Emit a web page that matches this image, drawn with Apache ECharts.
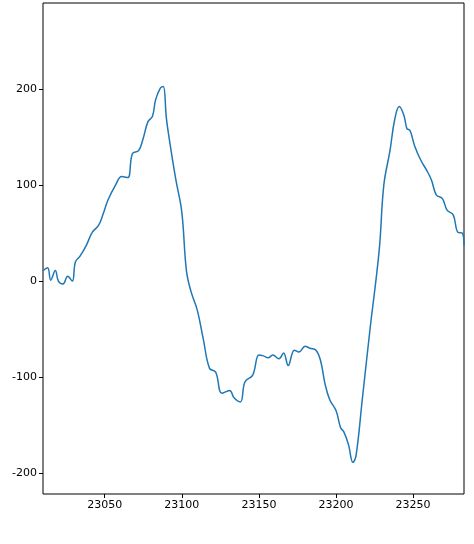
<!DOCTYPE html>
<html style="height: 100%">
<head>
<meta charset="utf-8">
<script src="https://cdn.jsdelivr.net/npm/echarts@6/dist/echarts.min.js"></script>
</head>
<body style="height: 100%; margin: 0; background: #fff">
<div id="container" style="width: 474px; height: 544px"></div>
<script>
// samples
var xs = [23010, 23013, 23015, 23018, 23020, 23023, 23026, 23029, 23031, 23034,
  23038, 23042, 23046, 23049, 23052, 23057, 23061, 23065, 23068, 23072,
  23075, 23078, 23081, 23083, 23086, 23088, 23090, 23092, 23096, 23100,
  23103, 23106, 23110, 23114, 23118, 23122, 23126, 23131, 23134, 23138,
  23141, 23146, 23150, 23153, 23156, 23159, 23163, 23166, 23169, 23173,
  23176, 23180, 23183, 23187, 23190, 23193, 23196, 23200, 23203, 23205,
  23208, 23211, 23213, 23217, 23222, 23228, 23231, 23235, 23238, 23241,
  23244, 23246, 23248, 23251, 23255, 23259, 23262, 23265, 23269, 23272,
  23276, 23279, 23282, 23283];
var ys = [11, 14, 1, 11, 0, -3, 5, 0, 20, 26,
  37, 51, 58, 70, 84, 100, 109, 108, 133, 136,
  149, 166, 172, 189, 201, 203, 170, 147, 107, 72,
  11, -11, -30, -61, -91, -95, -117, -114, -122, -126,
  -105, -98, -77, -78, -80, -77, -81, -75, -88, -72,
  -74, -68, -70, -72, -83, -108, -124, -135, -153, -157,
  -170, -189, -182, -124, -51, 32, 100, 136, 168, 182,
  173, 159, 157, 141, 126, 115, 105, 90, 86, 74,
  69, 51, 50, 37];
var xTicks = [23050, 23100, 23150, 23200, 23250];
var yTicks = [-200, -100, 0, 100, 200];

var points = xs.map(function (x, i) { return [x, ys[i]]; });
var myChart = echarts.init(document.getElementById('container'));
var tickStyle = { show: true, length: 4, lineStyle: { color: '#000' } };
myChart.setOption({
  animation: false,
  grid: { left: 43, right: 10, top: 3, bottom: 50, show: true, borderColor: '#000', borderWidth: 1 },
  xAxis: {
    type: 'value', min: 23010, max: 23283,
    axisLine: { show: false, onZero: false },
    splitLine: { show: false },
    axisTick: Object.assign({ customValues: xTicks }, tickStyle),
    axisLabel: { customValues: xTicks, formatter: function (v) { return String(v); },
      color: '#000', fontSize: 11, fontFamily: 'DejaVu Sans', margin: 6 }
  },
  yAxis: {
    type: 'value', min: -222, max: 290,
    axisLine: { show: false, onZero: false },
    splitLine: { show: false },
    axisTick: Object.assign({ customValues: yTicks }, tickStyle),
    axisLabel: { customValues: yTicks, formatter: function (v) { return String(v); },
      color: '#000', fontSize: 11, fontFamily: 'DejaVu Sans', margin: 6 }
  },
  series: [{
    type: 'line', data: points, smooth: 0.4, showSymbol: false,
    lineStyle: { color: '#1f77b4', width: 1.5 }
  }]
});
</script>
</body>
</html>
